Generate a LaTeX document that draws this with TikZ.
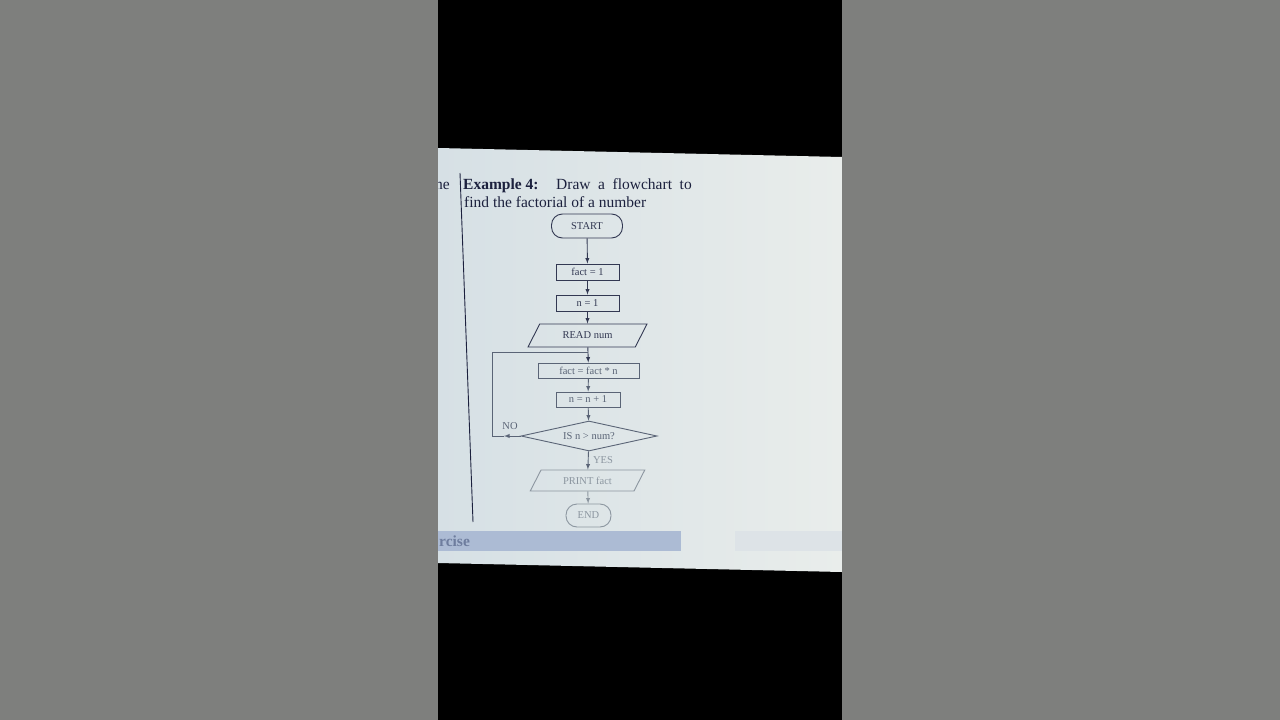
\documentclass[tikz,border=0pt]{standalone}
\usepackage{fontspec}
\setmainfont{Liberation Serif}
\usepackage{tikz}
\usetikzlibrary{positioning,shapes.geometric,arrows}

\definecolor{sidegray}{RGB}{126,127,125}
\definecolor{pageL}{RGB}{214,224,229}
\definecolor{pageR}{RGB}{233,237,235}
\definecolor{inkA}{RGB}{28,33,62}
\definecolor{inkB}{RGB}{50,56,82}
\definecolor{inkC}{RGB}{90,100,118}
\definecolor{inkD}{RGB}{140,150,160}
\definecolor{bandblue}{RGB}{172,187,212}
\definecolor{bandtext}{RGB}{110,125,158}

\newcommand{\titlefont}{\fontsize{15.5}{18}\selectfont}
\newcommand{\boxfont}{\fontsize{10.5}{12}\selectfont}

\begin{document}
\begin{tikzpicture}[x=1pt, y=-1pt, >=latex]
  % ---- photo frame -------------------------------------------
  \useasboundingbox (0,0) rectangle (1280,720);
  \fill[sidegray] (0,0) rectangle (1280,720);
  \fill[black] (438,0) rectangle (842,720);
  \fill[left color=pageL, right color=pageR]
    (438,148) -- (842,157) -- (842,572) -- (438,563) -- cycle;

  % ---- page furniture ----------------------------------------
  \tikzstyle{txt}=[inner sep=0pt, anchor=base west]
  \begin{scope}
    \clip (438,148) rectangle (842,572);
    \node[txt, anchor=base east, font=\titlefont, inkA] (prev) at (450,189) {he};
  \end{scope}
  \draw[inkA, line width=0.9] (460,173) -- (473,522);
  \fill[bandblue] (438,531) rectangle (681,551);
  \fill[pageR!80!bandblue] (735,531) rectangle (842,551);
  \node[txt, font=\titlefont\bfseries, bandtext] (band) at (439,546) {rcise};

  % ---- heading -----------------------------------------------
  \node[txt, font=\titlefont\bfseries, inkA] (exlabel) at (463,189) {Example 4:};
  \node[txt, font=\titlefont, inkA] (extask) at (556,189) {{\spaceskip=7.6pt Draw a flowchart to}};
  \node[txt, font=\titlefont, inkA] (extask2) at (464,207) {find the factorial of a number};

  % ---- flowchart styles --------------------------------------
  \tikzstyle{term}=[draw, rectangle, rounded corners=11, inner sep=0pt,
                    minimum height=24, line width=0.9, font=\boxfont]
  \tikzstyle{proc}=[draw, rectangle, inner sep=0pt, minimum height=16,
                    line width=0.9, font=\boxfont]
  \tikzstyle{io}=[draw, trapezium, trapezium stretches=true, inner sep=0pt,
                  line width=0.9, font=\boxfont]
  \tikzstyle{decide}=[draw, diamond, aspect=4.5, inner sep=0pt, line width=0.9,
                      minimum width=136, minimum height=30, font=\boxfont]
  \tikzstyle{flow}=[->, line width=0.9]

  % ---- flowchart nodes ---------------------------------------
  \node[term, inkB, minimum width=71] (start) at (587,226) {START};
  \node[proc, inkB, minimum width=63] (fact1) at (587.5,272) {fact = 1};
  \node[proc, inkB, minimum width=63] (n1) at (587.5,303) {n = 1};
  \node[io, inkB, trapezium left angle=49, trapezium right angle=131,
        minimum width=119, minimum height=23] (read) at (587.5,335.5) {READ num};
  \node[proc, inkC, minimum width=101, minimum height=15] (mult) at (588.5,370.5) {fact = fact * n};
  \node[proc, inkC, minimum width=64, minimum height=15] (inc) at (588,399.5) {n = n + 1};
  \node[decide, inkC] (test) at (589,436) {IS n > num?};
  \node[io, inkD, trapezium left angle=53, trapezium right angle=127,
        minimum width=115, minimum height=21] (print) at (587.5,480.5) {PRINT fact};
  \node[term, inkD, minimum width=45, minimum height=23] (stop) at (588.5,515.5) {END};

  % ---- connectors --------------------------------------------
  \coordinate (join) at (588,352);
  \coordinate (loopc) at (492,352);
  \coordinate (nox) at (504,436);
  \draw[flow, inkB] (start) -- (fact1);
  \draw[flow, inkB] (fact1) -- (n1);
  \draw[flow, inkB] (n1) -- (read);
  \draw[flow, inkB] (read) -- (mult);
  \draw[flow, inkC] (mult) -- (inc);
  \draw[flow, inkC] (inc) -- (test);
  \draw[flow, inkC] (test.west) -- (nox);
  \draw[line width=0.9, inkC] (nox) -| (loopc) -- (join);
  \draw[flow, inkC] (test) -- (print);
  \draw[flow, inkD] (print) -- (stop);

  % ---- branch labels -----------------------------------------
  \node[font=\boxfont, inkC] (nolabel) at (510,426) {NO};
  \node[font=\boxfont, inkD] (yeslabel) at (603,460) {YES};
\end{tikzpicture}
\end{document}
